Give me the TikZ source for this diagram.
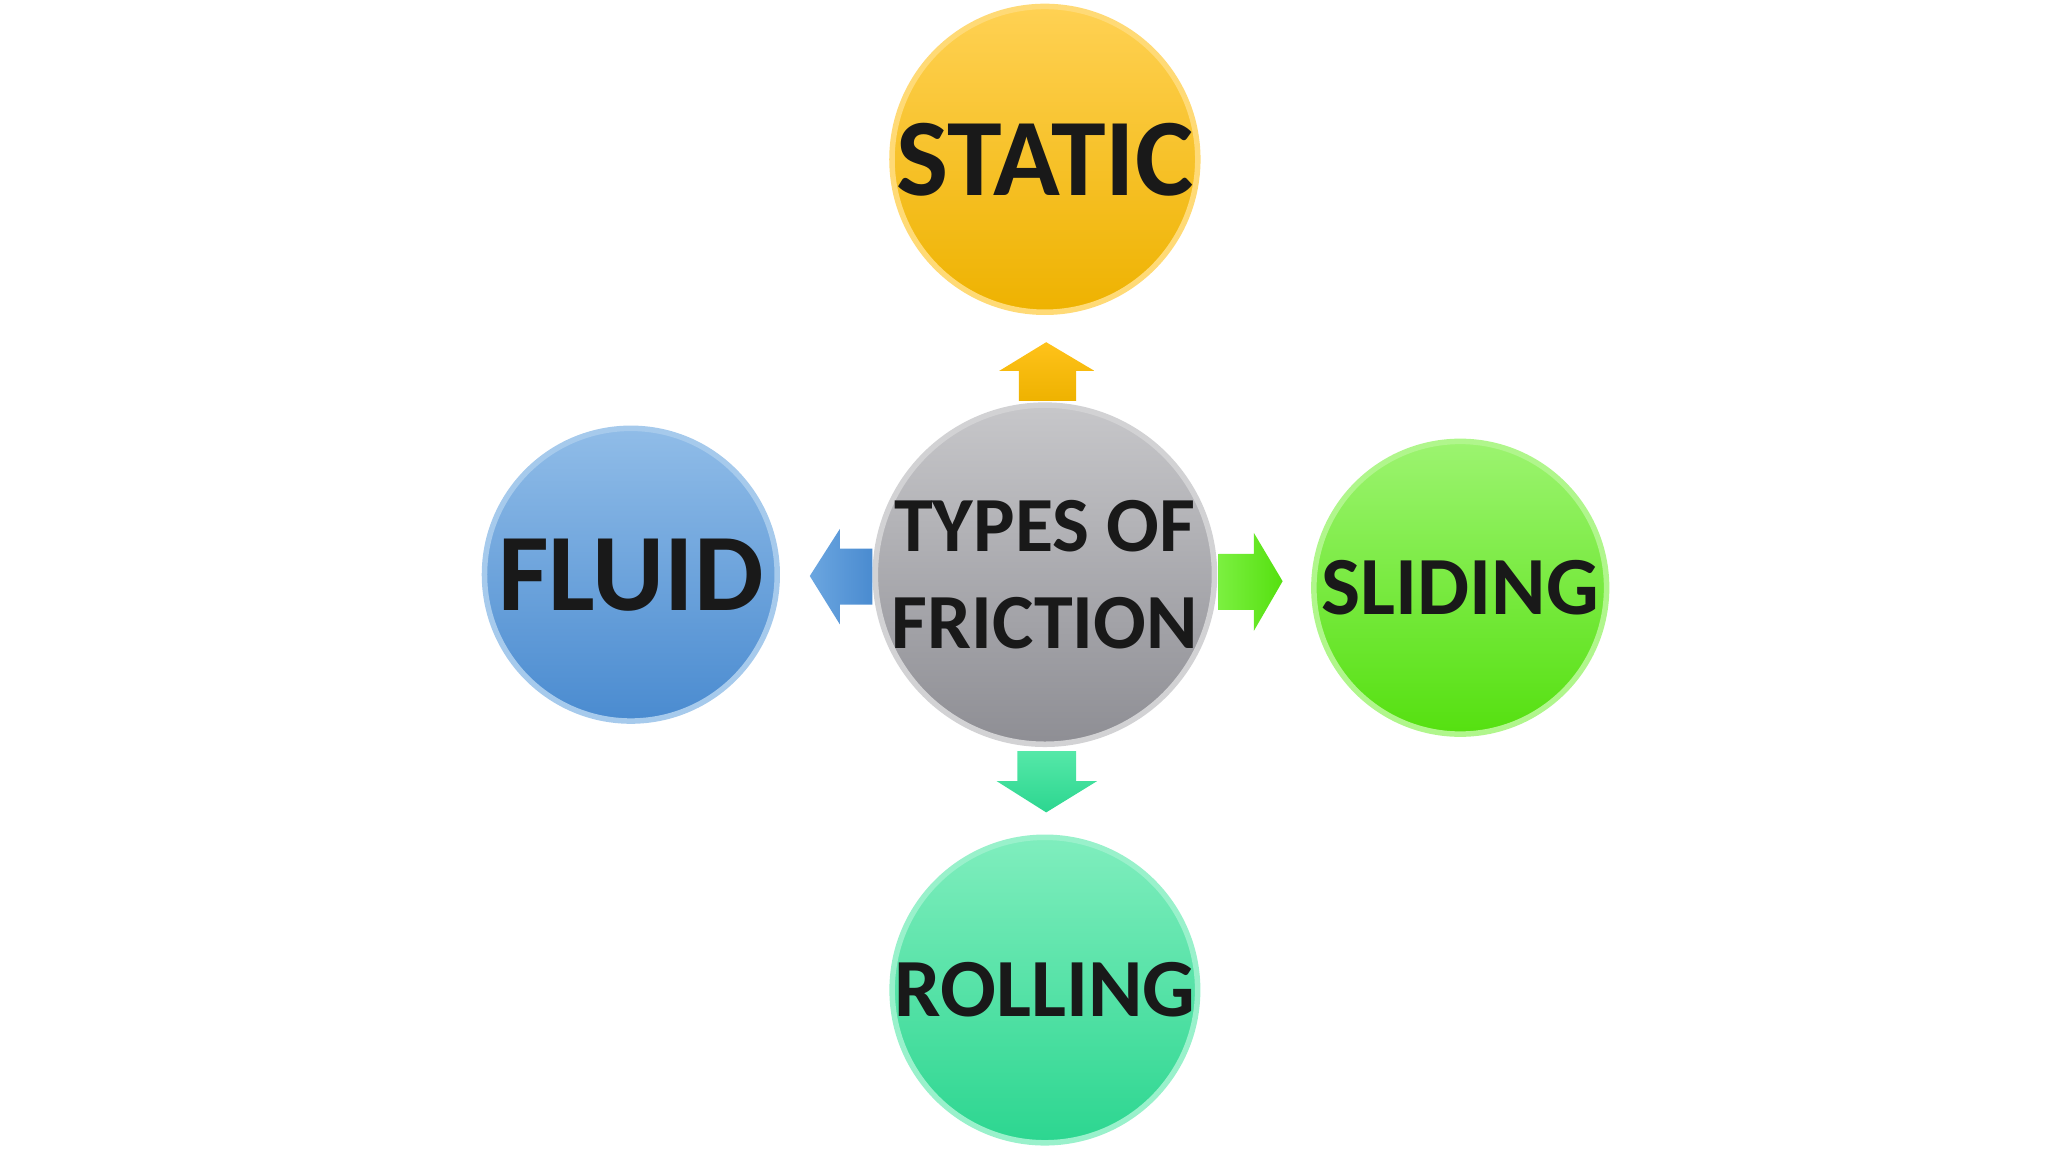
\documentclass[tikz,border=0pt]{standalone}
\usepackage{fontspec}
\setmainfont{Carlito}
\begin{document}
\begin{tikzpicture}[x=0.01cm,y=-0.01cm,
  circ/.style={circle,minimum size=224\pgflinewidth,inner sep=0pt,font=\bfseries,text=black!85,align=center},
  ball/.style 2 args={circle,minimum size=2.24cm,inner sep=0pt,draw=#1!60!white,line width=1.2pt,top color=#1!75!white,bottom color=#2,font=\bfseries,text=black!90,align=center}]
\useasboundingbox (0,0) rectangle (1568,882);
\definecolor{sO}{HTML}{FFC21A}\definecolor{sO2}{HTML}{EEB200}
\definecolor{bB}{HTML}{6BA6E0}\definecolor{bB2}{HTML}{4A8BD0}
\definecolor{gG}{HTML}{7BF040}\definecolor{gG2}{HTML}{55E010}
\definecolor{tT}{HTML}{55E8A8}\definecolor{tT2}{HTML}{2CD690}
\definecolor{gr}{HTML}{B4B4B8}\definecolor{gr2}{HTML}{8E8E94}
\node[ball={sO}{sO2},font=\fontsize{24}{26}\bfseries\selectfont] (static) at (800,122) {STATIC};
\node[ball={bB}{bB2},font=\fontsize{24}{26}\bfseries\selectfont] (fluid) at (483,440) {FLUID};
\node[ball={gr}{gr2},font=\fontsize{17}{21}\bfseries\selectfont] (center) at (800,440) {TYPES OF\\FRICTION};
\node[ball={gG}{gG2},font=\fontsize{18}{20}\bfseries\selectfont] (sliding) at (1118,450) {SLIDING};
\node[ball={tT}{tT2},font=\fontsize{18}{20}\bfseries\selectfont] (rolling) at (800,758) {ROLLING};
% block arrows
\shade[top color=sO,bottom color=sO2] (780,307) -- (780,284) -- (765,284) -- (801,262) -- (838,284) -- (824,284) -- (824,307) -- cycle;
\shade[left color=bB,right color=bB2] (668,420) -- (643,420) -- (643,405) -- (620,441) -- (643,478) -- (643,463) -- (668,463) -- cycle;
\shade[left color=gG,right color=gG2] (933,424) -- (960,424) -- (960,408) -- (982,445) -- (960,483) -- (960,467) -- (933,467) -- cycle;
\shade[top color=tT,bottom color=tT2] (779,575) -- (779,598) -- (763,598) -- (801,622) -- (840,598) -- (824,598) -- (824,575) -- cycle;
\end{tikzpicture}
\end{document}
